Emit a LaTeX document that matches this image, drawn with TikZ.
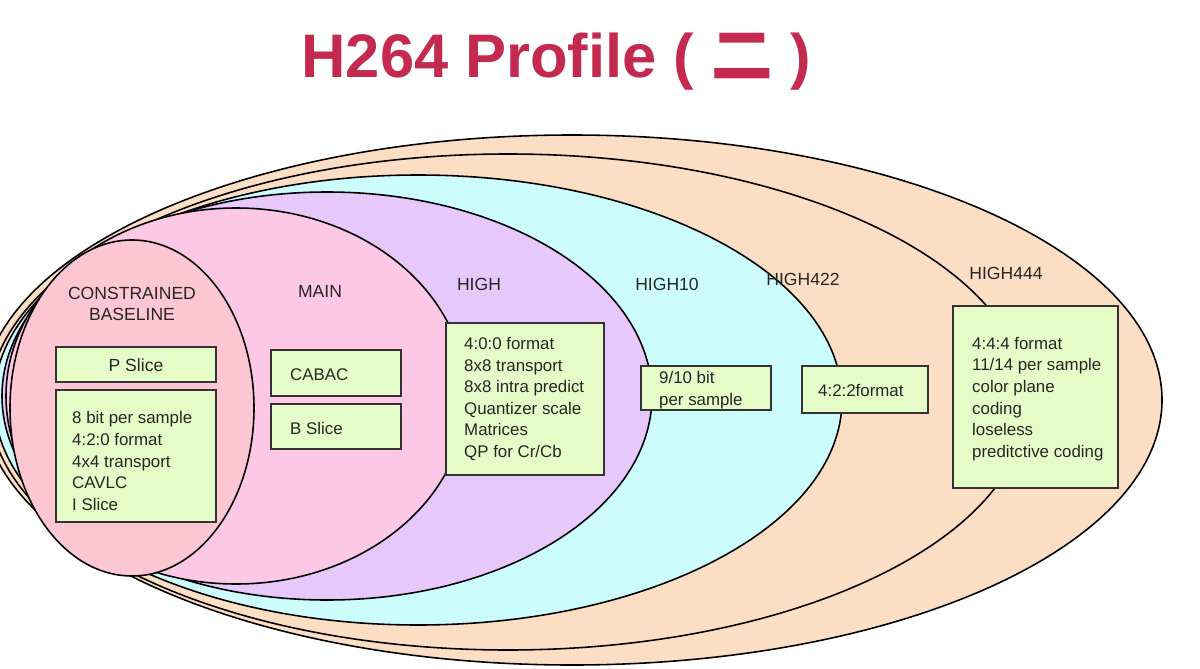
\documentclass[tikz,border=0pt]{standalone}
\usepackage{fontspec}
\setmainfont{Liberation Sans}
\newfontfamily\cjk{Noto Sans CJK SC}
\definecolor{peach}{HTML}{FCDEC4}
\definecolor{cyanf}{HTML}{CCFCFC}
\definecolor{purp}{HTML}{E6C8FA}
\definecolor{pinkm}{HTML}{FCC8E6}
\definecolor{pinkc}{HTML}{FCC6D2}
\definecolor{boxg}{HTML}{E6FCC8}
\definecolor{titlec}{HTML}{C42A50}
\begin{document}
\begin{tikzpicture}[x=0.02cm,y=-0.02cm,
  ell/.style={draw=black,line width=0.9pt},
  lbl/.style={font=\fontsize{10pt}{11.5pt}\selectfont,text=black!85,align=center},
  gbox/.style={draw=black!80,line width=1pt,fill=boxg,inner sep=0pt},
  btxt/.style={font=\fontsize{9.6pt}{12.3pt}\selectfont,align=left,anchor=west,text=black!85}]
\useasboundingbox (0,0) rectangle (1200,669);
\fill[white] (0,0) rectangle (1200,669);
\begin{scope}
\clip (0,0) rectangle (1200,669);
\node (title) at (556,62) {\fontsize{35pt}{38pt}\selectfont\bfseries\color{titlec}H264 Profile ( {\cjk 二} )};
\draw[ell,fill=peach] (572,400) ellipse [x radius=590,y radius=265];
\draw[ell,fill=peach] (508,402) ellipse [x radius=519,y radius=248];
\draw[ell,fill=cyanf] (418,400) ellipse [x radius=424,y radius=225];
\draw[ell,fill=purp] (327,396) ellipse [x radius=325,y radius=204];
\draw[ell,fill=pinkm] (236,396) ellipse [x radius=230,y radius=188];
\draw[ell,fill=pinkc] (132,408) ellipse [x radius=122,y radius=168];
\end{scope}
\node[lbl] (cb) at (132,304) {CONSTRAINED\\BASELINE};
\node[lbl] (main) at (320,291) {MAIN};
\node[lbl] (high) at (479,284) {HIGH};
\node[lbl] (h10) at (667,284) {HIGH10};
\node[lbl] (h422) at (803,279) {HIGH422};
\node[lbl] (h444) at (1006,273) {HIGH444};
\draw[gbox] (56,347) rectangle (216,382); \node[lbl] (ps) at (136,365) {P Slice};
\draw[gbox] (56,390) rectangle (216,522); \node[btxt] (cbl) at (66,461) {8 bit per sample\\4:2:0 format\\4x4 transport\\CAVLC\\I Slice};
\draw[gbox] (271,350) rectangle (401,396); \node[btxt] (cabac) at (284,375) {CABAC};
\draw[gbox] (271,404) rectangle (401,449); \node[btxt] (bs) at (284,428) {B Slice};
\draw[gbox] (446,323) rectangle (604,475); \node[btxt] (hl) at (458,399) {4:0:0 format\\8x8 transport\\8x8 intra predict\\Quantizer scale\\Matrices\\QP for Cr/Cb};
\draw[gbox] (641,366) rectangle (771,410); \node[btxt] (b10) at (653,390) {9/10 bit\\per sample};
\draw[gbox] (802,366) rectangle (928,413); \node[btxt] (f422) at (812,390) {4:2:2format};
\draw[gbox] (953,306) rectangle (1118,488); \node[btxt] (f444) at (966,399) {4:4:4 format\\11/14 per sample\\color plane\\coding\\loseless\\preditctive coding};
\end{tikzpicture}
\end{document}
